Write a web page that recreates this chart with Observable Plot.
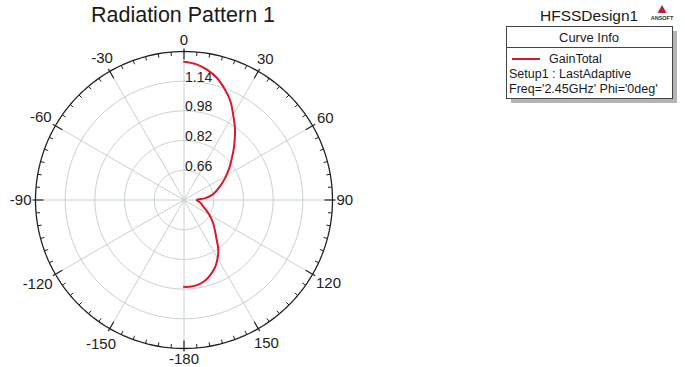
<!DOCTYPE html>
<html><head><meta charset="utf-8">
<script src="https://cdn.jsdelivr.net/npm/d3@7"></script>
<script src="https://cdn.jsdelivr.net/npm/@observablehq/plot@0.6"></script>
<style>
body{margin:0;background:#fff;font-family:"Liberation Sans",Arial,sans-serif;}
#wrap{position:relative;width:685px;height:367px;overflow:hidden;background:#fff}
#chart,#overlay{position:absolute;left:0;top:0}
</style></head><body>
<div id="wrap"><div id="chart"></div><svg id="overlay" width="685" height="367"></svg></div>
<script>
// ---- data ----
const angleDeg = [0, 5, 10, 15, 20, 25, 30, 35, 40, 45, 50, 55, 60, 65, 70, 75, 80, 85, 90, 95, 100, 105, 110, 115, 120, 125, 130, 135, 140, 145, 150, 155, 160, 165, 170, 175, 180];
const gainTotal = [1.245, 1.235, 1.213, 1.182, 1.138, 1.090, 1.030, 0.978, 0.925, 0.877, 0.833, 0.797, 0.763, 0.732, 0.703, 0.678, 0.652, 0.615, 0.568, 0.578, 0.590, 0.601, 0.613, 0.633, 0.656, 0.682, 0.708, 0.737, 0.772, 0.822, 0.862, 0.898, 0.925, 0.948, 0.962, 0.968, 0.968];
const ringValues = [0.66, 0.82, 0.98, 1.14, 1.30];
const ringLabels = ["0.66", "0.82", "0.98", "1.14"];
const angleTicks = [0, 30, 60, 90, 120, 150, 180, 210, 240, 270, 300, 330];
const angleTickLabels = ["0", "30", "60", "90", "120", "150", "-180", "-150", "-120", "-90", "-60", "-30"];
const rMin = 0.50, rMax = 1.30;
const titleText = "Radiation Pattern 1";
const designName = "HFSSDesign1";
const legendHeader = "Curve Info";
const seriesName = "GainTotal";
const legendLines = ["Setup1 : LastAdaptive", "Freq='2.45GHz' Phi='0deg'"];

// ---- geometry helpers ----
const cx = 183.5, cy = 199.5, R = 148.5;
const span = rMax - rMin;
const k = span / R; // data units per pixel
const rad = d => d * Math.PI / 180;
const pol = (a, u) => ({x: u * Math.sin(rad(a)), y: u * Math.cos(rad(a))});

const curve = angleDeg.map((a, i) => ({...pol(a, gainTotal[i] - rMin)}));
const circ = d3.range(0, 361, 2);
const rings = ringValues.flatMap(v => circ.map(a => ({ring: v, ...pol(a, v - rMin)})));
const spokes = angleTicks.map(a => ({x1: 0, y1: 0, x2: pol(a, span).x, y2: pol(a, span).y}));
const minorT = d3.range(0, 360, 5).filter(a => a % 30 !== 0).map(a => {
  const p = pol(a, span), q = pol(a, span - 4 * k);
  return {x1: q.x, y1: q.y, x2: p.x, y2: p.y};
});
const majorT = angleTicks.map(a => {
  const p = pol(a, span + 3 * k), q = pol(a, span - 8 * k);
  return {x1: q.x, y1: q.y, x2: p.x, y2: p.y};
});
const cw = ch => ch === "-" ? 0.333 : 0.556;
const angLab = angleTicks.map((a, i) => {
  const t = angleTickLabels[i];
  const w = d3.sum([...t], cw) * 15;
  const s = Math.abs(Math.sin(rad(a))), c = Math.abs(Math.cos(rad(a)));
  const rc = R + 4 + s * w / 2 + c * 7;
  return {t, ...pol(a, rc * k)};
});
const radLab = ringLabels.map((t, i) => ({t, x: 0, y: ringValues[i] - rMin}));

const plot = Plot.plot({
  width: 685, height: 367,
  x: {domain: [-span, span], range: [cx - R, cx + R], axis: null},
  y: {domain: [-span, span], range: [cy + R, cy - R], axis: null},
  style: {fontFamily: '"Liberation Sans", Arial, sans-serif', background: "transparent"},
  marks: [
    Plot.line(rings.filter(d => d.ring < rMax), {x: "x", y: "y", z: "ring", stroke: "#c6d2cb", strokeWidth: 1}),
    Plot.link(spokes, {x1: "x1", y1: "y1", x2: "x2", y2: "y2", stroke: "#c6d2cb", strokeWidth: 1}),
    Plot.line(rings.filter(d => d.ring === rMax), {x: "x", y: "y", stroke: "#222", strokeWidth: 1.3}),
    Plot.link(minorT, {x1: "x1", y1: "y1", x2: "x2", y2: "y2", stroke: "#222", strokeWidth: 1}),
    Plot.link(majorT, {x1: "x1", y1: "y1", x2: "x2", y2: "y2", stroke: "#222", strokeWidth: 1.2}),
    Plot.text(radLab, {x: "x", y: "y", text: "t", textAnchor: "start", dx: 1, dy: -4, fontSize: 14, fill: "#222"}),
    Plot.text(angLab, {x: "x", y: "y", text: "t", fontSize: 15, fill: "#222"}),
    Plot.line(curve, {x: "x", y: "y", stroke: "#e0142d", strokeWidth: 2, curve: "catmull-rom"})
  ]
});
document.getElementById("chart").appendChild(plot);

// ---- title & legend ----
const ov = d3.select("#overlay").style("font-family", '"Liberation Sans", Arial, sans-serif');
ov.append("text").attr("x", 183).attr("y", 22).attr("text-anchor", "middle").attr("font-size", 21.5).attr("fill", "#1a1a1a").text(titleText);
ov.append("text").attr("x", 540).attr("y", 21).attr("font-size", 15.5).attr("fill", "#1a1a1a").text(designName);
ov.append("path").attr("d", "M662,5 L666.5,13 L657.5,13 Z").attr("fill", "#b02040");
ov.append("text").attr("x", 662).attr("y", 20).attr("text-anchor", "middle").attr("font-size", 5.5).attr("font-weight", "bold").attr("fill", "#333").text("ANSOFT");
const bx = 506, by = 26, bw = 166, bh = 72;
ov.append("rect").attr("x", bx + 5).attr("y", by + 5).attr("width", bw).attr("height", bh).attr("fill", "#b4b4b4");
ov.append("rect").attr("x", bx + 0.5).attr("y", by + 0.5).attr("width", bw).attr("height", bh).attr("fill", "#fff").attr("stroke", "#444");
ov.append("line").attr("x1", bx).attr("x2", bx + bw).attr("y1", 47.5).attr("y2", 47.5).attr("stroke", "#444");
ov.append("text").attr("x", bx + bw / 2).attr("y", 42).attr("text-anchor", "middle").attr("font-size", 13).attr("fill", "#1a1a1a").text(legendHeader);
ov.append("line").attr("x1", 512).attr("x2", 540).attr("y1", 59).attr("y2", 59).attr("stroke", "#e0142d").attr("stroke-width", 2);
ov.append("text").attr("x", 549).attr("y", 63).attr("font-size", 12.5).attr("fill", "#1a1a1a").text(seriesName);
legendLines.forEach((t, i) => ov.append("text").attr("x", 509).attr("y", 78 + i * 14.5).attr("font-size", 12.5).attr("fill", "#1a1a1a").text(t));
</script>
</body></html>
